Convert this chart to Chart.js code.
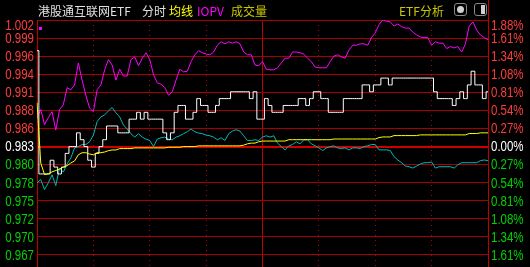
<!DOCTYPE html>
<html>
<head>
<meta charset="utf-8">
<script src="https://cdn.jsdelivr.net/npm/chart.js@4.4.1/dist/chart.umd.min.js"></script>
<style>
  html, body { margin: 0; padding: 0; background: #000; }
  #wrap { position: relative; width: 530px; height: 267px; overflow: hidden; background: #000; }
  #chart { position: absolute; left: 0; top: 0; }
  .hd { position: absolute; top: 2px; font: 12px "Noto Sans CJK SC", sans-serif; line-height: 18px; white-space: nowrap; }
  .ico { position: absolute; top: 3px; width: 13px; height: 13px; border: 1px solid #8a8a8a; border-radius: 3px; box-sizing: border-box; }
</style>
</head>
<body>
<div id="wrap">
  <canvas id="chart" width="530" height="267"></canvas>
  <span class="hd" style="left:38px;color:#e0e0e0">港股通互联网ETF</span>
  <span class="hd" style="left:142px;color:#e0e0e0">分时</span>
  <span class="hd" style="left:169px;color:#ffff00">均线</span>
  <span class="hd" style="left:197px;color:#ff00ff">IOPV</span>
  <span class="hd" style="left:231px;color:#c8c800">成交量</span>
  <span class="hd" style="left:399px;color:#c8c800">ETF分析</span>
  <div class="ico" style="left:454px"><div style="position:absolute;left:2px;top:2px;width:7px;height:7px;border-radius:50%;background:#d0d0d0"></div></div>
  <div class="ico" style="left:474px"><div style="position:absolute;right:1px;top:1px;width:4px;height:9px;background:#d0d0d0"></div></div>
</div>
<script>
// previous close and grid step (percent per grid row)
const prevClose = 0.983;
const rowPct = 0.26857;

const leftLabels = ['1.002', '0.999', '0.996', '0.994', '0.991', '0.988', '0.986',
                    '0.983', '0.980', '0.978', '0.975', '0.972', '0.970', '0.967'];
const rightLabels = ['1.88%', '1.61%', '1.34%', '1.08%', '0.81%', '0.54%', '0.27%',
                     '0.00%', '0.27%', '0.54%', '0.81%', '1.08%', '1.34%', '1.61%'];

// one point every 2 minutes, 9:30-11:30 and 13:00-15:00
const times = [];
for (let m = 0; m <= 240; m += 2) {
  const base = m <= 120 ? 9 * 60 + 30 + m : 13 * 60 + (m - 120);
  times.push(Math.floor(base / 60) + ':' + String(base % 60).padStart(2, '0'));
}

// 分时 price (white)
const price = [
  0.997,0.979,0.979,0.979,0.981,0.980,0.979,0.980,0.982,0.983,
  0.983,0.985,0.984,0.983,0.981,0.980,0.982,0.983,0.984,0.986,
  0.986,0.986,0.985,0.985,0.985,0.987,0.987,0.988,0.987,0.988,
  0.987,0.987,0.987,0.987,0.985,0.984,0.985,0.988,0.989,0.989,
  0.987,0.987,0.988,0.990,0.989,0.989,0.988,0.988,0.989,0.990,
  0.990,0.990,0.991,0.991,0.991,0.991,0.991,0.990,0.991,0.987,
  0.987,0.990,0.989,0.988,0.988,0.988,0.989,0.989,0.989,0.989,
  0.990,0.990,0.989,0.990,0.991,0.991,0.990,0.990,0.988,0.988,
  0.988,0.988,0.990,0.990,0.990,0.990,0.990,0.992,0.992,0.991,
  0.992,0.992,0.993,0.993,0.992,0.993,0.993,0.993,0.993,0.993,
  0.993,0.993,0.993,0.993,0.993,0.993,0.991,0.990,0.990,0.990,
  0.990,0.989,0.990,0.991,0.990,0.992,0.994,0.992,0.992,0.990,
  0.991
];

// 均线 average price (yellow)
const avgPrice = [
  0.9894,0.9806,0.9789,0.9790,0.9793,0.9795,0.9797,0.9800,0.9802,0.9806,
  0.9809,0.9818,0.9821,0.9821,0.9819,0.9818,0.9821,0.9821,0.9822,0.9824,
  0.9825,0.9825,0.9827,0.9827,0.9827,0.9827,0.9828,0.9828,0.9828,0.9828,
  0.9828,0.9828,0.9828,0.9828,0.9828,0.9829,0.9829,0.9829,0.9829,0.9830,
  0.9830,0.9830,0.9830,0.9831,0.9831,0.9831,0.9831,0.9831,0.9831,0.9831,
  0.9831,0.9831,0.9831,0.9831,0.9831,0.9832,0.9834,0.9835,0.9835,0.9837,
  0.9838,0.9838,0.9838,0.9838,0.9838,0.9838,0.9838,0.9840,0.9840,0.9840,
  0.9840,0.9840,0.9840,0.9840,0.9840,0.9840,0.9840,0.9840,0.9840,0.9841,
  0.9841,0.9841,0.9841,0.9841,0.9841,0.9841,0.9841,0.9841,0.9841,0.9841,
  0.9841,0.9843,0.9844,0.9844,0.9844,0.9846,0.9846,0.9846,0.9846,0.9846,
  0.9846,0.9846,0.9847,0.9847,0.9847,0.9847,0.9847,0.9847,0.9847,0.9847,
  0.9847,0.9847,0.9847,0.9847,0.9847,0.9849,0.9849,0.9849,0.9850,0.9850,
  0.9850
];

// IOPV (magenta)
const iopv = [
  0.9872,0.9884,0.9862,0.9872,0.9881,0.9854,0.9884,0.9891,0.9916,0.9913,
  0.9920,0.9952,0.9927,0.9905,0.9886,0.9881,0.9913,0.9920,0.9942,0.9957,
  0.9949,0.9927,0.9943,0.9933,0.9933,0.9957,0.9961,0.9948,0.9959,0.9967,
  0.9957,0.9935,0.9923,0.9921,0.9916,0.9905,0.9910,0.9927,0.9943,0.9939,
  0.9940,0.9954,0.9964,0.9970,0.9967,0.9965,0.9964,0.9968,0.9978,0.9983,
  0.9980,0.9983,0.9981,0.9983,0.9980,0.9968,0.9964,0.9964,0.9949,0.9948,
  0.9954,0.9943,0.9942,0.9942,0.9945,0.9952,0.9959,0.9959,0.9968,0.9968,
  0.9967,0.9965,0.9959,0.9954,0.9946,0.9945,0.9945,0.9945,0.9954,0.9962,
  0.9964,0.9961,0.9959,0.9971,0.9978,0.9978,0.9980,0.9980,0.9978,0.9989,
  0.9996,1.0008,1.0015,1.0013,1.0012,1.0006,1.0009,1.0005,1.0003,1.0003,
  0.9997,0.9993,0.9990,0.9989,0.9989,0.9978,0.9983,0.9981,0.9981,0.9973,
  0.9976,0.9974,0.9976,0.9968,0.9980,1.0006,1.0012,1.0000,0.9993,0.9989,
  0.9986
];

// tracked index, percent change (cyan, right axis)
const indexPct = [
  -0.54,-0.49,-0.64,-0.54,-0.42,-0.58,-0.32,-0.38,-0.26,-0.17,
  -0.02,0.00,0.03,0.03,0.07,0.17,0.37,0.44,0.47,0.53,
  0.58,0.50,0.44,0.32,0.26,0.19,0.14,0.19,0.14,0.11,
  0.09,0.00,0.11,0.13,0.14,0.11,0.10,0.14,0.16,0.19,
  0.22,0.26,0.22,0.20,0.19,0.17,0.16,0.14,0.10,0.13,
  0.09,0.19,0.23,0.25,0.23,0.16,0.09,0.09,0.10,0.09,
  0.14,0.16,0.14,0.16,0.05,0.00,-0.05,0.01,0.03,0.07,
  0.04,0.10,0.10,0.04,0.01,-0.02,-0.06,-0.02,0.00,0.01,
  -0.02,-0.03,-0.02,-0.05,-0.02,-0.02,-0.03,0.00,0.01,0.03,
  0.03,-0.05,-0.05,-0.05,-0.06,-0.15,-0.20,-0.24,-0.29,-0.30,
  -0.32,-0.29,-0.26,-0.24,-0.24,-0.23,-0.32,-0.30,-0.30,-0.30,
  -0.30,-0.32,-0.27,-0.24,-0.24,-0.24,-0.24,-0.24,-0.21,-0.20,
  -0.21
];

const rowsUp = 7;
const rowsDown = 6.664;
const pctMax = rowsUp * rowPct;
const pctMin = -rowsDown * rowPct;
const dottedAt = [15, 30, 45, 75, 90, 105];

// axis labels, drawn a bit narrow like the original terminal font
const axisText = {
  id: 'axisText',
  afterDraw(chart) {
    const { ctx, chartArea: a, scales } = chart;
    ctx.save();
    ctx.strokeStyle = '#c00000';
    ctx.lineWidth = 1;
    ctx.beginPath();
    ctx.moveTo(Math.round(a.right) + 0.5, 0);
    ctx.lineTo(Math.round(a.right) + 0.5, a.top);
    ctx.stroke();

    ctx.fillStyle = '#ff00ff';
    ctx.fillRect(a.left + 2, a.top + 7, 3, 3);

    ctx.font = '14px "Liberation Sans", Arial, sans-serif';
    ctx.textBaseline = 'middle';
    const colorOf = i => (i < rowsUp ? '#ff3c3c' : i === rowsUp ? '#ffffff' : '#00d200');
    const put = (txt, x, y, align) => {
      ctx.save();
      ctx.translate(x, y);
      ctx.scale(0.82, 1);
      ctx.textAlign = align;
      ctx.fillText(txt, 0, 0);
      ctx.restore();
    };
    scales.y.ticks.forEach((t, i) => {
      const py = Math.max(scales.y.getPixelForValue(t.value), a.top + 5);
      ctx.fillStyle = colorOf(i);
      put(leftLabels[i], a.left - 3, py + 1, 'right');
    });
    scales.y2.ticks.forEach((t, i) => {
      const py = Math.max(scales.y2.getPixelForValue(t.value), a.top + 5);
      ctx.fillStyle = colorOf(i);
      put(rightLabels[i], a.right + 3, py + 1, 'left');
    });
    ctx.restore();
  }
};

new Chart(document.getElementById('chart'), {
  type: 'line',
  data: {
    labels: times,
    datasets: [
      { label: '均线', data: avgPrice, yAxisID: 'y', borderColor: '#ffff00' },
      { label: '分时', data: price, yAxisID: 'y', borderColor: '#ffffff', stepped: 'middle' },
      { label: 'IOPV', data: iopv, yAxisID: 'y', borderColor: '#ff00ff' },
      { label: '指数', data: indexPct, yAxisID: 'y2', borderColor: '#00b8b8' }
    ]
  },
  options: {
    responsive: false,
    animation: false,
    layout: { padding: { top: 20, left: 0, right: 0, bottom: 0 } },
    elements: {
      line: { borderWidth: 1, tension: 0 },
      point: { radius: 0 }
    },
    plugins: { legend: { display: false }, tooltip: { enabled: false } },
    scales: {
      x: {
        type: 'category',
        offset: false,
        ticks: { display: false, autoSkip: false },
        grid: {
          offset: false,
          drawTicks: false,
          lineWidth: 1,
          color: c => (c.index === 60 ? '#c00000' : dottedAt.includes(c.index) ? '#b00000' : 'rgba(0,0,0,0)')
        },
        border: { display: false, dash: c => (c.index === 60 ? [] : [1, 4]) },
        afterFit: s => { s.height = 0; }
      },
      y: {
        position: 'left',
        min: prevClose * (1 + pctMin / 100),
        max: prevClose * (1 + pctMax / 100),
        afterBuildTicks: s => {
          s.ticks = leftLabels.map((l, i) => ({ value: prevClose * (1 + (rowsUp - i) * rowPct / 100) }));
        },
        ticks: { display: false },
        grid: {
          drawTicks: false,
          color: c => (c.index === rowsUp ? '#d00000' : '#a80000'),
          lineWidth: c => (c.index === rowsUp ? 2 : 1)
        },
        border: { display: true, color: '#c00000' },
        afterFit: s => { s.width = 37; }
      },
      y2: {
        position: 'right',
        min: pctMin,
        max: pctMax,
        afterBuildTicks: s => {
          s.ticks = rightLabels.map((l, i) => ({ value: (rowsUp - i) * rowPct }));
        },
        ticks: { display: false },
        grid: { display: false, drawTicks: false },
        border: { display: true, color: '#c00000' },
        afterFit: s => { s.width = 42; }
      }
    }
  },
  plugins: [axisText]
});
</script>
</body>
</html>
